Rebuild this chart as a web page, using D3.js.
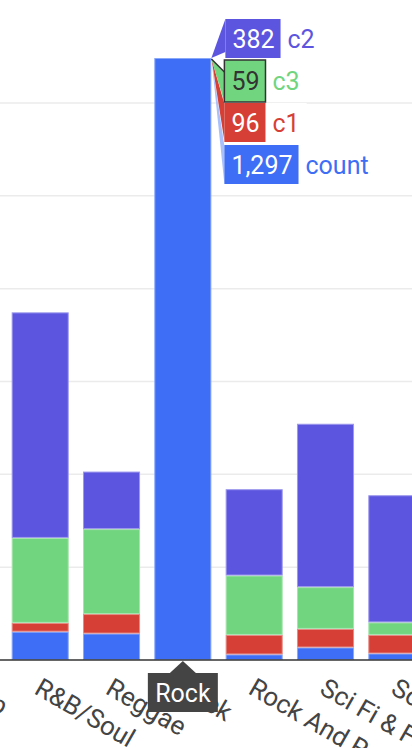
<!DOCTYPE html>
<html>
<head>
<meta charset="utf-8">
<script src="https://cdn.jsdelivr.net/npm/d3@7"></script>
<style>
  html, body { margin: 0; padding: 0; background: #fff; overflow: hidden; }
  svg { display: block; font-family: Roboto, "Noto Sans", sans-serif; }
</style>
</head>
<body>
<div id="chart"></div>
<script>
// values; Pop bar lies off-screen, so its values are unknown
const categories = ['Pop', 'R&B/Soul', 'Reggae', 'Rock', 'Rock And Roll', 'Sci Fi & Fantasy', 'Soundtrack'];
const count = [null, 61, 57, 1297, 12, 27, 14];
const c1 = [null, 19, 42, 96, 42, 40, 40];
const c3 = [null, 183, 183, 59, 128, 90, 27];
const c2 = [null, 486, 124, 382, 186, 352, 274];

const seriesNames = ['count', 'c1', 'c3', 'c2'];
const seriesColors = ['#3d6ef5', '#d63f35', '#71d57f', '#5c55e0'];
const seriesStrokes = ['#8aa8f8', '#e58a84', '#a6e4ae', '#9c98ec'];
const gridTicks = [200, 400, 600, 800, 1000, 1200];
const focused = 'Rock';

const W = 412, H = 748;
const baseY = 660, topY = 58;

const rows = categories.map(function(c, i) {
  return { cat: c, count: count[i], c1: c1[i], c3: c3[i], c2: c2[i] };
});

const x = d3.scaleBand().domain(categories)
  .range([-66.8, 432.5]).paddingInner(0.2).paddingOuter(0.1);
const y = d3.scaleLinear().domain([0, 1297]).range([baseY, topY]);

const svg = d3.select('#chart').append('svg')
  .attr('width', W).attr('height', H);

svg.append('defs').append('clipPath').attr('id', 'area')
  .append('rect').attr('x', -100).attr('y', topY).attr('width', W + 200).attr('height', baseY - topY);

// gridlines
svg.append('g').selectAll('line').data(gridTicks).enter().append('line')
  .attr('x1', 0).attr('x2', W)
  .attr('y1', function(d) { return y(d); }).attr('y2', function(d) { return y(d); })
  .attr('stroke', '#ebebeb').attr('stroke-width', 1.5);

// stacked bars
const stack = d3.stack().keys(seriesNames)
  .value(function(d, k) { return d[k] || 0; });
const layers = stack(rows.filter(function(d) { return d.count !== null; }));

svg.append('g').attr('clip-path', 'url(#area)')
  .selectAll('g').data(layers).enter().append('g')
    .attr('fill', function(d, i) { return seriesColors[i]; })
    .attr('stroke', function(d, i) { return seriesStrokes[i]; })
    .attr('stroke-width', 1)
  .selectAll('rect').data(function(d) { return d; }).enter().append('rect')
    .attr('x', function(d) { return x(d.data.cat) + 0.5; })
    .attr('width', x.bandwidth() - 1)
    .attr('y', function(d) { return y(d[1]) + 0.5; })
    .attr('height', function(d) { return Math.max(0, y(d[0]) - y(d[1]) - 1); });

// baseline
svg.append('line').attr('x1', 0).attr('x2', W).attr('y1', baseY).attr('y2', baseY)
  .attr('stroke', '#333').attr('stroke-width', 1.5);

// slanted category labels
const xAxis = d3.axisBottom(x).tickSize(0).tickPadding(0);
const ax = svg.append('g').attr('transform', 'translate(0,' + baseY + ')').call(xAxis);
ax.select('.domain').remove();
ax.selectAll('text')
  .attr('fill', '#444')
  .style('font-size', '26px')
  .style('font-family', 'Roboto, sans-serif')
  .attr('text-anchor', 'start')
  .attr('y', 0).attr('dy', '0.71em')
  .attr('transform', 'translate(2,17) rotate(30)');

// category tooltip on the axis
const fx = x(focused) + x.bandwidth() / 2;
const tip = svg.append('g').attr('transform', 'translate(' + fx + ',' + baseY + ')');
tip.append('path').attr('d', 'M0,1L13,13L-13,13Z').attr('fill', '#444');
tip.append('rect').attr('x', -35).attr('y', 13).attr('width', 70).attr('height', 39).attr('fill', '#444');
tip.append('text').attr('x', 0).attr('y', 42).attr('text-anchor', 'middle')
  .attr('fill', '#fff').style('font-size', '25px').text(focused);

// value callouts for the focused bar
const fr = rows[categories.indexOf(focused)];
const ptX = x(focused) + x.bandwidth(), ptY = y(Math.min(fr.count, 1297));
const boxX = ptX + 13;
const fmt = d3.format(',');
const labels = [
  { key: 'c2', top: 19, h: 39 },
  { key: 'c3', top: 60, h: 42 },
  { key: 'c1', top: 103, h: 39 },
  { key: 'count', top: 145, h: 39 }
];
const cg = svg.append('g');

function colorOf(k) { return seriesColors[seriesNames.indexOf(k)]; }

// pointer wedges (drawn bottom to top)
cg.append('path').attr('fill', '#a9c0fa')
  .attr('d', 'M' + ptX + ',' + ptY + 'L' + boxX + ',146L' + boxX + ',184Z');
cg.append('path').attr('fill', colorOf('c1'))
  .attr('d', 'M' + ptX + ',' + ptY + 'L' + boxX + ',104L' + boxX + ',141Z');
cg.append('path').attr('fill', colorOf('c2'))
  .attr('d', 'M' + ptX + ',' + ptY + 'L' + (boxX + 1) + ',19L' + (boxX + 1) + ',52Z');
cg.append('path').attr('fill', colorOf('c3'))
  .attr('d', 'M' + ptX + ',' + (ptY + 1) + 'L' + boxX + ',72L' + boxX + ',102Z');
cg.append('path').attr('fill', 'none').attr('stroke', '#333').attr('stroke-width', 1.5)
  .attr('d', 'M' + ptX + ',' + (ptY + 1) + 'L' + boxX + ',72');

labels.forEach(function(l) {
  const val = fmt(fr[l.key]);
  const g = cg.append('g').attr('transform', 'translate(' + (l.key === 'c2' ? boxX + 1 : boxX) + ',' + l.top + ')');
  const t = g.append('text').attr('x', 7).attr('y', l.h / 2).attr('dy', '0.36em')
    .style('font-size', '25px').attr('fill', l.key === 'c3' ? '#333' : '#fff').text(val);
  const tw = t.node().getComputedTextLength();
  const bw = tw + 13;
  const n = g.append('text').attr('x', bw + 7).attr('y', l.h / 2).attr('dy', '0.36em')
    .style('font-size', '25px').attr('fill', colorOf(l.key)).text(l.key);
  const nw = n.node().getComputedTextLength();
  g.insert('rect', 'text').attr('x', bw).attr('y', 0).attr('width', nw + 14).attr('height', l.h).attr('fill', '#fff');
  g.insert('rect', 'text').attr('x', 0).attr('y', 0).attr('width', bw).attr('height', l.h)
    .attr('fill', colorOf(l.key))
    .attr('stroke', l.key === 'c3' ? '#333' : 'none').attr('stroke-width', 1.5);
});
</script>
</body>
</html>
